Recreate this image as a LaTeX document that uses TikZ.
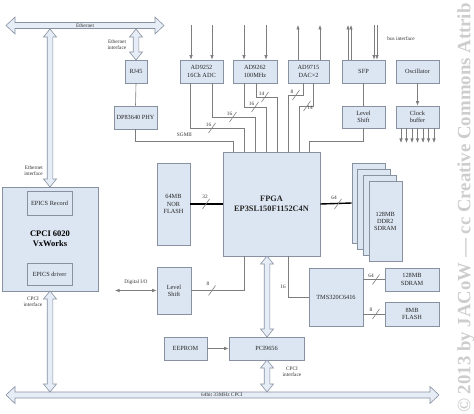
\documentclass[tikz,border=0pt]{standalone}
\usepackage{fontspec}
\setmainfont{Liberation Serif}
\usetikzlibrary{arrows.meta,calc}
\definecolor{boxfill}{RGB}{220,230,242}
\definecolor{boxdraw}{RGB}{135,145,160}
\definecolor{linec}{RGB}{125,125,125}
\definecolor{wmark}{RGB}{205,205,205}
\newcommand{\vdarrow}[3]{\draw[barrow] (#1-2.8,#2+8) -- (#1-2.8,#3-8) -- (#1-6.5,#3-8) -- (#1,#3) -- (#1+6.5,#3-8) -- (#1+2.8,#3-8) -- (#1+2.8,#2+8) -- (#1+6.5,#2+8) -- (#1,#2) -- (#1-6.5,#2+8) -- cycle;}
\newcommand{\hdarrow}[3]{\draw[barrow] (#1+9,#3-3) -- (#2-9,#3-3) -- (#2-9,#3-8.5) -- (#2,#3) -- (#2-9,#3+8.5) -- (#2-9,#3+3) -- (#1+9,#3+3) -- (#1+9,#3+8.5) -- (#1,#3) -- (#1+9,#3-8.5) -- cycle;}
\newcommand{\busmark}[3]{\draw[conn] ($(#1)+(-3.5,5)$) -- ($(#1)+(3.5,-5)$); \node[lbl] at ($(#1)+#3$) {#2};}
\tikzset{
  box/.style={draw=boxdraw, fill=boxfill, line width=0.6pt, inner sep=0pt, align=center, font=\fontsize{6.3}{7.3}\selectfont, text=black!85},
  conn/.style={draw=linec, line width=0.6pt},
  thickc/.style={draw=black, line width=1.4pt},
  arr/.style={conn, -{Latex[length=4.5pt,width=3.5pt]}},
  darr/.style={conn, {Latex[length=4.5pt,width=3.5pt]}-{Latex[length=4.5pt,width=3.5pt]}},
  barrow/.style={draw=boxdraw, fill=boxfill!70!white, line width=0.6pt},
  lbl/.style={font=\fontsize{5.3}{6}\selectfont, text=black!80, inner sep=0pt, align=center},
  big/.style={font=\bfseries\fontsize{8.5}{10}\selectfont}
}
\begin{document}
\begin{tikzpicture}[x=1pt,y=-1pt]
\useasboundingbox (0,0) rectangle (474,414);
% watermark
\node[font=\bfseries\fontsize{18.8}{18.8}\selectfont, text=wmark, rotate=90, anchor=west, inner sep=0pt] (wm) at (466,413) {\textcopyright\ 2013 by JACoW — cc Creative Commons Attrib};
% buses
\hdarrow{6}{164}{25.5}
\node[lbl] (eth) at (85,25.5) {Ethernet};
\hdarrow{6}{439}{395}
\node[lbl] (cpcibus) at (222,395) {64bit 33MHz CPCI};
% boxes
\node[box, minimum width=22pt, minimum height=23pt] (rj) at (136,71.5) {RJ45};
\node[box, minimum width=43pt, minimum height=23pt] (phy) at (135.5,117.5) {DP83640 PHY};
\node[box, minimum width=43pt, minimum height=23pt] (adc1) at (201.5,71.5) {AD9252\\16Ch ADC};
\node[box, minimum width=44pt, minimum height=23pt] (adc2) at (255,71.5) {AD9262\\100MHz};
\node[box, minimum width=41pt, minimum height=23pt] (dac) at (308.5,71.5) {AD9715\\DAC×2};
\node[box, minimum width=43pt, minimum height=23pt] (sfp) at (363.5,71.5) {SFP};
\node[box, minimum width=43pt, minimum height=23pt] (osc) at (417.5,71.5) {Oscillator};
\node[box, minimum width=43pt, minimum height=22pt] (lvl1) at (363.5,117) {Level\\Shift};
\node[box, minimum width=43pt, minimum height=22pt] (clk) at (417.5,117) {Clock\\buffer};
\node[box, minimum width=97pt, minimum height=104pt, font=\bfseries\fontsize{8.3}{9.5}\selectfont] (fpga) at (271.5,204) {FPGA\\EP3SL150F1152C4N};
\node[box, minimum width=33pt, minimum height=82pt] (flash) at (173.5,204) {64MB\\NOR\\FLASH};
\node[box, minimum width=96pt, minimum height=104pt] (cpci) at (50,239) {};
\node[big, align=center] (cpcit) at (50,239) {CPCI 6020\\VxWorks};
\node[box, minimum width=45pt, minimum height=24pt] (rec) at (49.5,203) {EPICS Record};
\node[box, minimum width=45pt, minimum height=22pt] (drv) at (49.5,274) {EPICS driver};
\node[box, minimum width=34pt, minimum height=47pt] (lvl2) at (174,290.5) {Level\\Shift};
\node[box, minimum width=43pt, minimum height=23pt] (eeprom) at (185.5,348.5) {EEPROM};
\node[box, minimum width=75pt, minimum height=23pt] (pci) at (266.5,348.5) {PCI9656};
\node[box, minimum width=54pt, minimum height=58pt] (dsp) at (336,297) {TMS320C6416};
\node[box, minimum width=54pt, minimum height=23pt] (sdram) at (412,279.5) {128MB\\SDRAM};
\node[box, minimum width=54pt, minimum height=24pt] (nflash) at (412,314) {8MB\\FLASH};
\node[box, minimum width=33pt, minimum height=80pt] (ddr1) at (368.5,203) {};
\node[box, minimum width=33pt, minimum height=80pt] (ddr2) at (374.1,209.2) {};
\node[box, minimum width=33pt, minimum height=80pt] (ddr3) at (379.7,215.4) {};
\node[box, minimum width=33pt, minimum height=80pt] (ddr4) at (385.3,221.6) {128MB\\DDR2\\SDRAM};
% block arrows
\vdarrow{50}{29}{187}
\vdarrow{136}{29}{60}
\vdarrow{50}{291}{392}
\vdarrow{267}{256}{337}
\vdarrow{267}{360}{392}
\node[lbl, anchor=east, align=right] (ethif1) at (43,171) {Ethernet\\interface};
\node[lbl] (ethif2) at (117,45) {Ethernet\\interface};
\node[lbl] (cpif1) at (33,302) {CPCI\\interface};
\node[lbl] (cpif2) at (292,372) {CPCI\\interface};
% FPGA top entry points
\coordinate (t1) at (233,152);
\coordinate (t2) at (244,152);
\coordinate (t3) at (255,152);
\coordinate (t4) at (266,152);
\coordinate (t5) at (277,152);
\coordinate (t6) at (288,152);
\coordinate (t7) at (299,152);
\coordinate (t8) at (309,152);
\draw[conn] (rj.south) -- (phy.north);
\draw[conn] (phy.south) -- ++(0,12) -| (t1);
\node[lbl] (sgmii) at (184.5,135) {SGMII};
\draw[conn] ($(adc1.south west)+(11,0)$) -- ++(0,45) -| (t2);
\draw[conn] ($(adc1.south east)+(-11,0)$) -- ++(0,34) -| (t3);
\draw[conn] ($(adc2.south west)+(12,0)$) -- ++(0,24) -| (t4);
\draw[conn] ($(adc2.south west)+(24,0)$) -- ++(0,14) -| (t5);
\draw[conn] ($(dac.south west)+(16,0)$) -- ++(0,12) -| (t6);
\draw[conn] ($(dac.south west)+(26,0)$) -- ++(0,23) -| (t7);
\draw[conn] (sfp.south) -- (lvl1.north);
\draw[conn] (lvl1.south) -- ++(0,13) -| (t8);
\coordinate (m1) at (212,128);
\coordinate (m2) at (233,117);
\coordinate (m3) at (255,107);
\coordinate (m4) at (265,97);
\coordinate (m5) at (296,95);
\coordinate (m6) at (307,106);
\busmark{m1}{16}{(-3.5,-3.5)}
\busmark{m2}{16}{(-3.5,-3.5)}
\busmark{m3}{16}{(-3.5,-3.5)}
\busmark{m4}{14}{(-3.5,-3.5)}
\busmark{m5}{8}{(-4,-3)}
\busmark{m6}{14}{(3,2)}
% inputs on top
\foreach \xx/\nm in {191/ia,212/ib,244/ic,266/id,374/ie,377/if}{
  \coordinate (\nm) at (\xx,25);
}
\draw[arr] (ia) -- (ia |- adc1.north);
\draw[arr] (ib) -- (ib |- adc1.north);
\draw[arr] (ic) -- (ic |- adc2.north);
\draw[arr] (id) -- (id |- adc2.north);
\draw[arr] (ie) -- (ie |- sfp.north);
\draw[arr] (if) -- (if |- sfp.north);
\foreach \xx/\nm in {298/oa,320/ob,348/oc,351/od}{
  \coordinate (\nm) at (\xx,25);
}
\draw[arr] (oa |- dac.north) -- (oa);
\draw[arr] (ob |- dac.north) -- (ob);
\draw[arr] (oc |- sfp.north) -- (oc);
\draw[arr] (od |- sfp.north) -- (od);
\node[lbl] (busif) at (401,39) {bus interface};
% oscillator / clock
\draw[arr] (osc.south) -- (clk.north);
\foreach \i in {0,...,6}{
  \coordinate (co\i) at (401+5.5*\i,143);
  \draw[arr] (co\i |- clk.south) -- (co\i);
}
% flash and DDR
\draw[thickc] (flash.east) -- (fpga.west);
\coordinate (m7) at (206,204);
\busmark{m7}{32}{(-1,-7)}
\draw[thickc] (fpga.east) -- (ddr1.west);
\coordinate (m8) at (338,204);
\busmark{m8}{64}{(-4,-6)}
% bottom side
\coordinate (b1) at (244,256);
\coordinate (b2) at (288,256);
\draw[conn] (lvl2.east) -| (b1);
\coordinate (m9) at (212,290.5);
\busmark{m9}{8}{(-4,-7)}
\draw[conn] (b2) |- (dsp.west);
\node[lbl] (w16) at (283,287) {16};
\coordinate (dio) at (115,290.5);
\draw[darr] (dio) -- (lvl2.west);
\node[lbl] (diol) at (136,282) {Digital I/O};
\draw[arr] (eeprom.east) -- (pci.west);
\draw[conn] (sdram.west -| dsp.east) -- (sdram.west);
\coordinate (m10) at (376,279.5);
\busmark{m10}{64}{(-5,-4)}
\draw[conn] (nflash.west -| dsp.east) -- (nflash.west);
\coordinate (m11) at (376,314);
\busmark{m11}{8}{(-5,-4)}
\end{tikzpicture}
\end{document}
